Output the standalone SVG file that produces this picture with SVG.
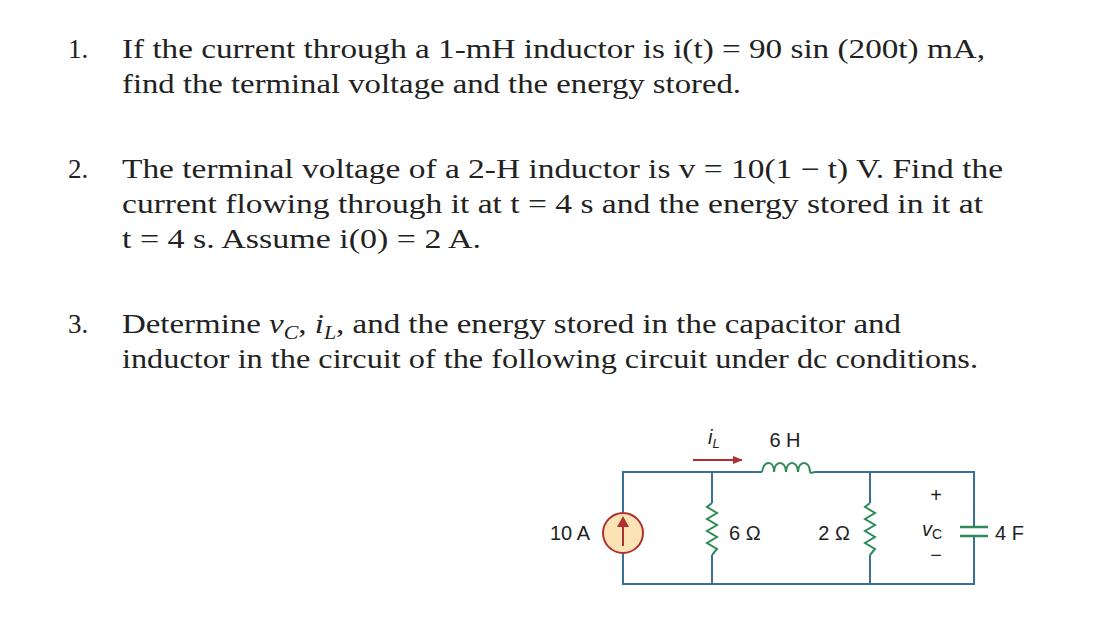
<svg xmlns="http://www.w3.org/2000/svg" width="1110" height="644" viewBox="0 0 1110 644">
<style>
.t{font-family:"Liberation Serif",serif;font-size:27px;fill:#222}
.c{font-family:"Liberation Sans",sans-serif;font-size:20px;fill:#222}
.w{fill:none;stroke:#3a6f9a;stroke-width:2}
.g{fill:none;stroke:#2e8b57;stroke-width:2}
</style>
<defs><marker id="ah" markerWidth="10" markerHeight="8" refX="9" refY="4" orient="auto" markerUnits="userSpaceOnUse"><path d="M0,0L10,4L0,8z" fill="#b03030"/></marker></defs>
<rect width="1110" height="644" fill="#fff"/>
<g id="text">
<text class="t" x="68" y="58">1.</text>
<text class="t" x="122" y="58" textLength="863" lengthAdjust="spacingAndGlyphs">If the current through a 1-mH inductor is i(t) = 90 sin (200t) mA,</text>
<text class="t" x="122" y="93" textLength="619" lengthAdjust="spacingAndGlyphs">find the terminal voltage and the energy stored.</text>
<text class="t" x="68" y="178">2.</text>
<text class="t" x="122" y="178" textLength="881" lengthAdjust="spacingAndGlyphs">The terminal voltage of a 2-H inductor is v = 10(1 − t) V. Find the</text>
<text class="t" x="122" y="213" textLength="861" lengthAdjust="spacingAndGlyphs">current flowing through it at t = 4 s and the energy stored in it at</text>
<text class="t" x="122" y="248" textLength="359" lengthAdjust="spacingAndGlyphs">t = 4 s. Assume i(0) = 2 A.</text>
<text class="t" x="68" y="333">3.</text>
<text class="t" x="122" y="333" textLength="779" lengthAdjust="spacingAndGlyphs">Determine <tspan font-style="italic">v</tspan><tspan font-style="italic" font-size="18" dy="6">C</tspan><tspan dy="-6">, </tspan><tspan font-style="italic">i</tspan><tspan font-style="italic" font-size="18" dy="6">L</tspan><tspan dy="-6">, and the energy stored in the capacitor and</tspan></text>
<text class="t" x="122" y="368" textLength="856" lengthAdjust="spacingAndGlyphs">inductor in the circuit of the following circuit under dc conditions.</text>
</g>
<g id="connectors">
<path class="w" d="M623,512V472H762M815,472H974V527M974,536V584H623V554"/>
<path class="w" d="M712,472V503M712,555V584M870,472V503M870,555V584"/>
<path d="M960,527H988M960,536H988" stroke="#2e8b57" stroke-width="2.5"/>
<line x1="693" y1="460" x2="742" y2="460" stroke="#b03030" stroke-width="2" marker-end="url(#ah)"/>
</g>
<g id="source"><circle cx="623" cy="533" r="20" fill="#fbe3b5" stroke="#b03030" stroke-width="2"/><path d="M623,546V524" stroke="#b03030" stroke-width="2"/><path d="M617,527L623,516L629,527z" fill="#b03030"/></g>
<g id="inductor"><path class="g" d="M762,472c2,-12 12,-12 12,0c0,-12 12,-12 12,0c0,-12 12,-12 12,0c0,-12 12,-12 12,0c1,2 3,0 5,0"/></g>
<g id="r6"><path class="g" d="M712,503l-5,4l10,6l-10,6l10,6l-10,6l10,6l-10,6l10,6l-5,6"/></g>
<g id="r2"><path class="g" d="M870,503l-5,4l10,6l-10,6l10,6l-10,6l10,6l-10,6l10,6l-5,6"/></g>
<g id="labels">
<text class="c" x="590" y="540" text-anchor="end">10 A</text>
<text class="c" x="729" y="540">6 Ω</text>
<text class="c" x="850" y="540" text-anchor="end">2 Ω</text>
<text class="c" x="785" y="447" text-anchor="middle">6 H</text>
<text class="c" x="708" y="444" font-style="italic">i<tspan font-size="13" dy="4">L</tspan></text>
<text class="c" x="936" y="502" text-anchor="middle">+</text>
<text class="c" x="936" y="562" text-anchor="middle">−</text>
<text class="c" x="922" y="536" font-family="Liberation Serif" font-style="italic">v<tspan font-family="Liberation Sans" font-style="normal" font-size="14" dy="3">C</tspan></text>
<text class="c" x="995" y="540">4 F</text>
</g>
</svg>
